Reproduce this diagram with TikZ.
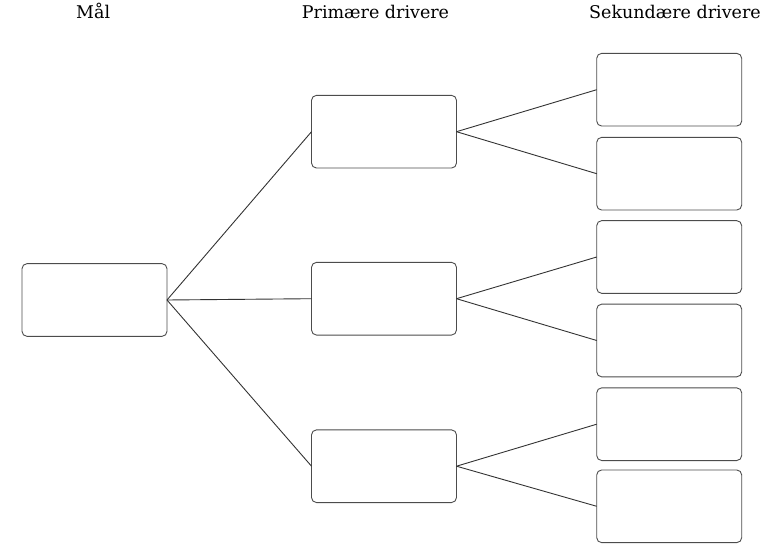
\documentclass[tikz,border=0pt]{standalone}
\usepackage{fontspec}
\setmainfont{DejaVu Serif}
\begin{document}
\begin{tikzpicture}[x=1bp,y=-1bp,
  box/.style={draw=black!70, line width=0.9bp, rounded corners=5bp, minimum width=145bp, minimum height=72.7bp, inner sep=0pt, outer sep=0pt},
  link/.style={draw=black!80, line width=0.9bp},
  hdr/.style={anchor=base west, inner sep=0pt, font=\fontsize{17.5bp}{20bp}\selectfont}]
\useasboundingbox (0,0) rectangle (768,552);
\node[hdr] (h1) at (76,18.3) {Mål};
\node[hdr] (h2) at (301.7,18.3) {Primære drivere};
\node[hdr] (h3) at (589,18.3) {Sekundære drivere};
\node[box] (g) at (94.5,300) {};
\node[box] (p1) at (384,131.7) {};
\node[box] (p2) at (384,298.7) {};
\node[box] (p3) at (384,466.2) {};
\node[box] (s1) at (669.2,89.7) {};
\node[box] (s2) at (669.2,173.7) {};
\node[box] (s3) at (669.2,257) {};
\node[box] (s4) at (669.2,340.5) {};
\node[box] (s5) at (669.2,424.2) {};
\node[box] (s6) at (669.2,506.3) {};
\draw[link] (g.east) -- (p1.west);
\draw[link] (g.east) -- (p2.west);
\draw[link] (g.east) -- (p3.west);
\draw[link] (p1.east) -- (s1.west);
\draw[link] (p1.east) -- (s2.west);
\draw[link] (p2.east) -- (s3.west);
\draw[link] (p2.east) -- (s4.west);
\draw[link] (p3.east) -- (s5.west);
\draw[link] (p3.east) -- (s6.west);
\end{tikzpicture}
\end{document}
